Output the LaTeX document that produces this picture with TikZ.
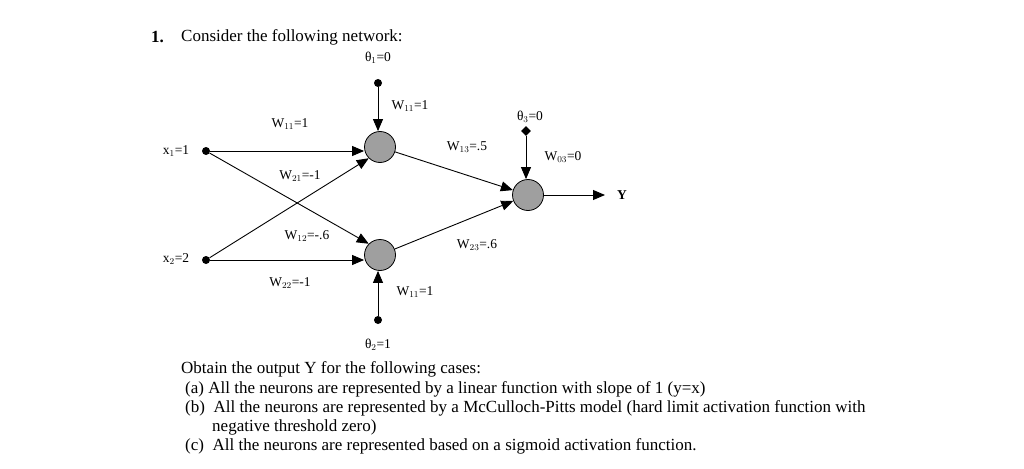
\documentclass[tikz,border=0pt]{standalone}
\usepackage{fontspec}
\setmainfont{Liberation Serif}
\usetikzlibrary{arrows.meta,shapes.geometric}
\begin{document}
\begin{tikzpicture}[x=1pt,y=-1pt,
  neuron/.style={circle,draw,line width=0.8pt,fill=gray!75,minimum size=31pt,inner sep=0pt},
  dot/.style={circle,fill,inner sep=0pt,minimum size=8pt},
  lbl/.style={font=\fontsize{13.5}{15}\selectfont},
  txt/.style={font=\fontsize{17}{19}\selectfont,anchor=west,inner sep=0pt},
  arr/.style={-{Triangle[length=12pt,width=10pt]},line width=0.9pt}]
\useasboundingbox (0,0) rectangle (1024,468);
\node[txt,font=\fontsize{17}{19}\selectfont\bfseries] (num) at (151,37) {1.};
\node[txt] (title) at (181,37) {Consider the following network:};
% nodes
\node[dot] (x1) at (206,151) {};
\node[dot] (x2) at (206,260) {};
\node[neuron] (n1) at (380,147) {};
\node[neuron] (n2) at (380,255) {};
\node[neuron] (n3) at (528,195) {};
\node[dot] (t1) at (378,83) {};
\node[dot] (t2) at (378,320) {};
\node[diamond,fill,inner sep=0pt,minimum size=10pt] (t3) at (526,131) {};
\coordinate (yend) at (605,195);
% connectors
\draw[arr] (x1) -- (x1 -| n1.west);
\draw[arr] (x2) -- (x2 -| n2.west);
\draw[arr] (x1) -- (n2.north west);
\draw[arr] (x2) -- (n1.south west);
\draw[arr] (t1) -- (t1 |- n1.north);
\draw[arr] (t2) -- (t2 |- n2.south);
\draw[arr] (t3) -- (t3 |- n3.north);
\draw[arr] (n1) -- (n3);
\draw[arr] (n2) -- (n3);
\draw[arr] (n3) -- (yend);
% labels
\node[lbl] (lx1) at (176,151) {x$_1$=1};
\node[lbl] (lx2) at (176,259) {x$_2$=2};
\node[lbl] (ly) at (622,195) {\textbf{Y}};
\node[lbl] (lt1) at (378,58) {θ$_1$=0};
\node[lbl] (lt2) at (378,345) {θ$_2$=1};
\node[lbl] (lt3) at (530,117) {θ$_3$=0};
\node[lbl] (w1) at (410,106) {W$_{11}$=1};
\node[lbl] (w2) at (290,124) {W$_{11}$=1};
\node[lbl] (w3) at (300,176) {W$_{21}$=-1};
\node[lbl] (w4) at (307,236) {W$_{12}$=-.6};
\node[lbl] (w5) at (290,283) {W$_{22}$=-1};
\node[lbl] (w6) at (415,292) {W$_{11}$=1};
\node[lbl] (w7) at (467,147) {W$_{13}$=.5};
\node[lbl] (w8) at (477,245) {W$_{23}$=.6};
\node[lbl] (w9) at (563,157) {W$_{03}$=0};
% text below
\node[txt] (l1) at (181,369) {Obtain the output Y for the following cases:};
\node[txt] (l2) at (185,389) {(a) All the neurons are represented by a linear function with slope of 1 (y=x)};
\node[txt] (l3) at (185,408) {(b)\ \ All the neurons are represented by a McCulloch-Pitts model (hard limit activation function with};
\node[txt] (l4) at (212,427) {negative threshold zero)};
\node[txt] (l5) at (185,446) {(c)\ \ All the neurons are represented based on a sigmoid activation function.};
\end{tikzpicture}
\end{document}
